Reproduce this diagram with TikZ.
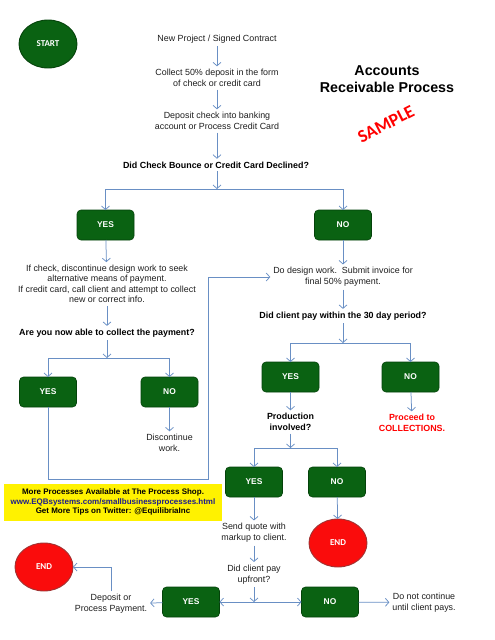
\documentclass[tikz,border=0pt]{standalone}
\usepackage{fontspec}
\setmainfont{Liberation Sans}
\newfontfamily\calfont{Carlito}
\usetikzlibrary{arrows.meta,shapes.geometric}
\definecolor{boxgreen}{RGB}{10,98,18}
\definecolor{boxedge}{RGB}{4,66,10}
\definecolor{arrowblue}{RGB}{105,143,196}
\definecolor{endred}{RGB}{250,12,12}
\definecolor{endedge}{RGB}{160,50,50}
\definecolor{linkblue}{RGB}{28,28,140}
\definecolor{txtgray}{RGB}{30,30,30}
\begin{document}
\begin{tikzpicture}[x=1pt,y=-1pt,
 every node/.style={inner sep=0pt, outer sep=0pt},
 txt/.style={font=\fontsize{8.9}{10.8}\selectfont, align=center, text=txtgray, inner sep=3pt},
 qtxt/.style={font=\fontsize{8.9}{10.8}\selectfont\bfseries, align=center, text=black, inner sep=3pt},
 gbox/.style={draw=boxedge, fill=boxgreen, rounded corners=4pt, minimum width=57pt, minimum height=30pt, text=white, font=\fontsize{8.4}{9}\selectfont\bfseries, line width=0.6pt},
 oval/.style={ellipse, minimum width=58pt, minimum height=48pt, text=white, font=\calfont\fontsize{9}{10}\selectfont\bfseries, line width=0.9pt},
 arr/.style={draw=arrowblue, line width=0.75pt, -{Straight Barb[length=3.5pt,width=8pt]}},
 ln/.style={draw=arrowblue, line width=0.75pt},
]
\useasboundingbox (0,0) rectangle (495,640);
% header
\node[oval, fill=boxgreen, draw=boxedge] (start) at (48,44) {START};
\node[txt] (t1) at (217,39) {New Project / Signed Contract};
\node[txt] (t2) at (217,78) {Collect 50\% deposit in the form\\of check or credit card};
\node[txt] (t3) at (217,121) {Deposit check into banking\\account or Process Credit Card};
\node[qtxt] (q1) at (216,165) {Did Check Bounce or Credit Card Declined?};
\node[font=\fontsize{14.3}{17}\selectfont\bfseries, align=center] (title) at (387,79) {Accounts\\Receivable Process};
\node[font=\calfont\fontsize{18}{20}\selectfont\bfseries, text=red, rotate=27] (sample) at (386,124) {SAMPLE};
\draw[arr] (t1) -- (t2);
\draw[arr] (t2) -- (t3);
\draw[arr] (t3) -- (t3 |- q1.north);
% first split
\coordinate (j1) at (217,189);
\node[gbox] (yes1) at (105.5,225) {YES};
\node[gbox] (no1) at (343,225) {NO};
\draw[arr] (j1 |- q1.south) -- (j1);
\draw[ln] (j1 -| yes1) -- (j1 -| no1);
\draw[arr] (j1 -| yes1) -- (yes1);
\draw[arr] (j1 -| no1) -- (no1);
% left branch
\node[txt, font=\fontsize{8.9}{10.4}\selectfont] (t4) at (107,284) {If check, discontinue design work to seek\\alternative means of payment.\\If credit card, call client and attempt to collect\\new or correct info.};
\node[qtxt] (q2) at (107,333) {Are you now able to collect the payment?};
\draw[arr] (yes1) -- (t4);
\draw[arr] (t4) -- (q2);
\coordinate (j2) at (107,358);
\node[gbox] (yes2) at (48,392) {YES};
\node[gbox] (no2) at (169.5,392) {NO};
\draw[arr] (q2) -- (j2);
\draw[ln] (j2 -| yes2) -- (j2 -| no2);
\draw[arr] (j2 -| yes2) -- (yes2);
\draw[arr] (j2 -| no2) -- (no2);
\node[txt] (t5) at (169.5,443) {Discontinue\\work.};
\draw[arr] (no2) -- (t5);
% right branch
\node[txt] (t6) at (343,277) {Do design work.\ \ Submit invoice for\\final 50\% payment.};
\draw[arr] (no1) -- (t6);
\coordinate (c1) at (208,479);
\draw[arr] (yes2.south) |- (c1) |- (t6.west);
\node[qtxt] (q3) at (343,316) {Did client pay within the 30 day period?};
\draw[arr] (t6) -- (q3);
\coordinate (j3) at (343,343);
\node[gbox] (yes3) at (290.5,377) {YES};
\node[gbox] (no3) at (410.5,377) {NO};
\draw[arr] (q3) -- (j3);
\draw[ln] (j3 -| yes3) -- (j3 -| no3);
\draw[arr] (j3 -| yes3) -- (yes3);
\draw[arr] (j3 -| no3) -- (no3);
\node[qtxt, text=red] (t7) at (412,423) {Proceed to\\COLLECTIONS.};
\draw[arr] (no3) -- (t7);
\node[qtxt] (q4) at (290.5,422) {Production\\involved?};
\draw[arr] (yes3) -- (q4);
\coordinate (j4) at (290.5,448);
\node[gbox] (yes4) at (254,482) {YES};
\node[gbox] (no4) at (337,482) {NO};
\draw[arr] (q4) -- (j4);
\draw[ln] (j4 -| yes4) -- (j4 -| no4);
\draw[arr] (j4 -| yes4) -- (yes4);
\draw[arr] (j4 -| no4) -- (no4);
\node[oval, fill=endred, draw=endedge] (end1) at (338,543) {END};
\draw[arr] (no4) -- (end1);
\node[txt] (t8) at (254,533) {Send quote with\\markup to client.};
\draw[arr] (yes4) -- (t8);
\node[txt] (q5) at (254,574.5) {Did client pay\\upfront?};
\draw[arr] (t8) -- (q5);
\coordinate (j5) at (254,602);
\node[gbox] (yes5) at (191,602) {YES};
\node[gbox] (no5) at (330,602) {NO};
\draw[arr] (q5) -- (j5);
\draw[arr] (j5) -- (yes5.east);
\draw[arr] (j5) -- (no5.west);
\node[txt] (t9) at (424,602.5) {Do not continue\\until client pays.};
\draw[arr] (no5) -- (t9);
\node[txt] (t10) at (111,604) {Deposit or\\Process Payment.};
\draw[arr] (yes5) -- (t10);
\node[oval, fill=endred, draw=endedge] (end2) at (44,567) {END};
\draw[arr] (t10.north) |- (end2.east);
% promo box
\node[fill=yellow, minimum width=218pt, minimum height=37pt, align=center, font=\fontsize{8}{9.6}\selectfont\bfseries] (promo) at (113,502) {More Processes Available at The Process Shop.\\\textcolor{linkblue}{www.EQBsystems.com/smallbusinessprocesses.html}\\Get More Tips on Twitter: @EquilibriaInc};
\end{tikzpicture}
\end{document}
